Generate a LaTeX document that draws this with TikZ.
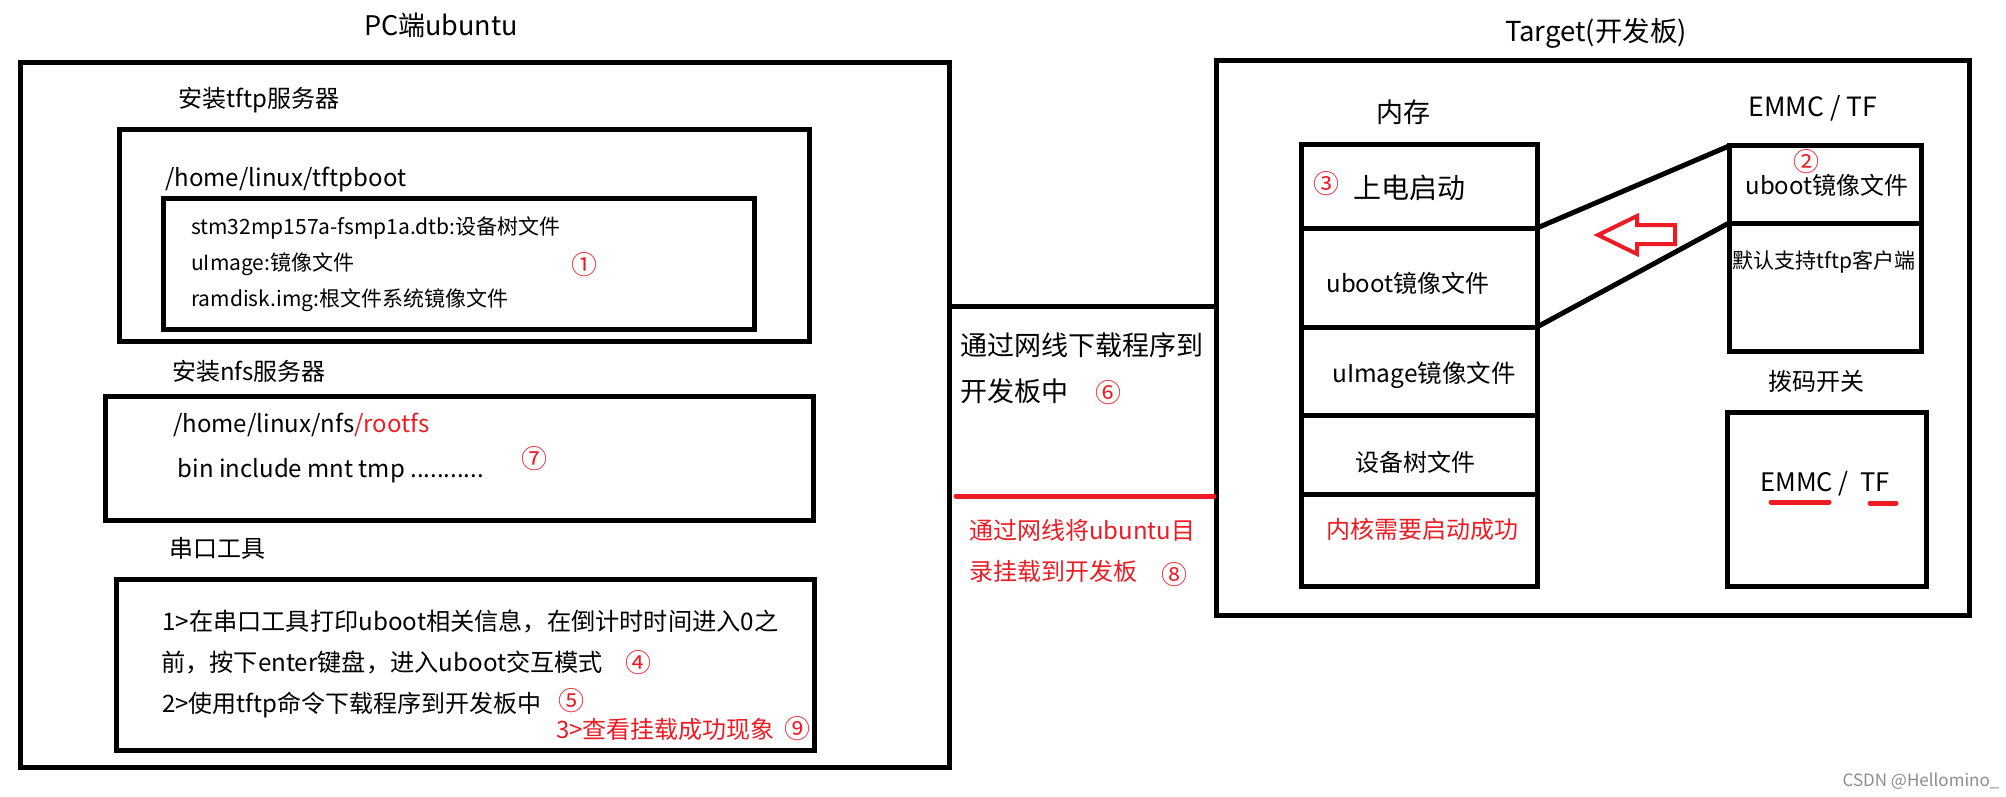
\documentclass[tikz,border=0pt]{standalone}
\usepackage{xcolor}
\usepackage{fontspec}
\setmainfont{Noto Sans CJK SC}
\definecolor{paintred}{HTML}{ED1C24}
\tikzset{
  box/.style={draw=black, line width=5pt, outer sep=0pt, inner sep=0pt},
  wire/.style={draw=black, line width=5pt},
  redwire/.style={draw=paintred, line width=5pt, line cap=round},
  lbl/.style={inner sep=0pt, font=\fontsize{24}{24}\selectfont},
  lbllarge/.style={lbl, font=\fontsize{27}{27}\selectfont},
  lblsmall/.style={lbl, font=\fontsize{21}{21}\selectfont},
  lblred/.style={lbl, text=paintred},
  circnum/.style={inner sep=0pt, text=paintred, font=\fontsize{26}{26}\selectfont},
}
\begin{document}
\begin{tikzpicture}[x=1pt, y=-1pt]
  \useasboundingbox (0,0) rectangle (2006,797);

  % PC side
  \node[box, minimum width=929pt, minimum height=704pt] (pcbox) at (484.5,415) {};
  \node[box, minimum width=690pt, minimum height=211pt] (tftpbox) at (464,235.5) {};
  \node[box, minimum width=591pt, minimum height=131pt] (tftpdir) at (458.5,263.5) {};
  \node[box, minimum width=708pt, minimum height=124pt] (nfsbox) at (459,458) {};
  \node[box, minimum width=698pt, minimum height=171pt] (uartbox) at (465,664.5) {};

  \node[lbllarge] (pctitle) at (441,25) {PC端ubuntu};
  \node[lbl] (tftptitle) at (259,100) {安装tftp服务器};
  \node[lbl, anchor=west] (tftppath) at (165,180) {/home/linux/tftpboot};
  \node[lblsmall, anchor=west] (dtbfile) at (191,228) {stm32mp157a-fsmp1a.dtb:设备树文件};
  \node[lblsmall, anchor=west] (uimagefile) at (191,264) {uImage:镜像文件};
  \node[lblsmall, anchor=west] (ramdiskfile) at (191,300) {ramdisk.img:根文件系统镜像文件};
  \node[circnum] (numone) at (584,265) {①};

  \node[lbl] (nfstitle) at (249,371) {安装nfs服务器};
  \node[lbl, anchor=west] (nfspath) at (173,425) {/home/linux/nfs{\color{paintred}/rootfs}};
  \node[lbl, anchor=west] (nfslist) at (177.5,471) {bin include mnt tmp ...........};
  \node[circnum] (numseven) at (534,459) {⑦};

  \node[lbl] (uarttitle) at (217,548) {串口工具};
  \node[lbl, anchor=west, font=\fontsize{24.2}{24.2}\selectfont] (uartone) at (162,622) {1>在串口工具打印uboot相关信息，在倒计时时间进入0之};
  \node[lbl, anchor=west, font=\fontsize{24.2}{24.2}\selectfont] (uarttwo) at (161,663) {前，按下enter键盘，进入uboot交互模式};
  \node[circnum] (numfour) at (638,663) {④};
  \node[lbl, anchor=west] (uartthree) at (162,705) {2>使用tftp命令下载程序到开发板中};
  \node[circnum] (numfive) at (571,701) {⑤};
  \node[lblred, anchor=west] (uartfour) at (556,729) {3>查看挂载成功现象};
  \node[circnum] (numnine) at (797,729) {⑨};

  % Target side
  \node[box, minimum width=753pt, minimum height=554pt] (targetbox) at (1592.5,338) {};
  \node[box, minimum width=236pt, minimum height=83pt] (mempower) at (1419,186.5) {};
  \node[box, minimum width=236pt, minimum height=99pt] (memuboot) at (1419,277.5) {};
  \node[box, minimum width=236pt, minimum height=88pt] (memuimage) at (1419,371) {};
  \node[box, minimum width=236pt, minimum height=79pt] (memdtb) at (1419,454.5) {};
  \node[box, minimum width=236pt, minimum height=92pt] (memkernel) at (1419,540) {};
  \node[box, minimum width=192pt, minimum height=77pt] (emmcuboot) at (1825,184.5) {};
  \node[box, minimum width=192pt, minimum height=128pt] (emmcclient) at (1825,287) {};
  \node[box, minimum width=199pt, minimum height=174pt] (switchbox) at (1827,499) {};

  \node[lbllarge, font=\fontsize{27.5}{27.5}\selectfont] (targettitle) at (1596,33) {Target(开发板)};
  \node[lbllarge] (memtitle) at (1403,112) {内存};
  \node[lbllarge, font=\fontsize{26.5}{26.5}\selectfont] (emmctitle) at (1813,108) {EMMC / TF};
  \node[circnum] (numthree) at (1326,184) {③};
  \node[lbllarge, font=\fontsize{28}{28}\selectfont] (powerlbl) at (1409,188) {上电启动};
  \node[lbl] (ubootlbl) at (1408,283) {uboot镜像文件};
  \node[lbl, font=\fontsize{24.5}{24.5}\selectfont] (uimagelbl) at (1424,375) {uImage镜像文件};
  \node[lbl] (dtblbl) at (1415,462) {设备树文件};
  \node[lblred] (kernellbl) at (1422,529) {内核需要启动成功};
  \node[circnum] (numtwo) at (1806,162) {②};
  \node[lbl] (emmcuboolbl) at (1827,185) {uboot镜像文件};
  \node[lblsmall] (clientlbl) at (1824,262) {默认支持tftp客户端};
  \node[lbl] (switchtitle) at (1816,381) {拨码开关};
  \node[lbl, font=\fontsize{25.5}{25.5}\selectfont] (switchlbl) at (1825,484) {EMMC / \ TF};

  % Underlines in the switch box
  \coordinate (emmcundera) at (1771,502);
  \coordinate (emmcunderb) at (1829,502);
  \coordinate (tfundera) at (1870,503);
  \coordinate (tfunderb) at (1896,503);
  \draw[redwire] (emmcundera) -- (emmcunderb);
  \draw[redwire] (tfundera) -- (tfunderb);

  % Links between the two boards
  \coordinate (nettopa) at (949,306.5);
  \coordinate (nettopb) at (1216,306.5);
  \coordinate (netreda) at (956,496);
  \coordinate (netredb) at (1214,496);
  \draw[wire] (nettopa) -- (nettopb);
  \draw[redwire] (netreda) -- (netredb);
  \draw[wire] (mempower.south east) -- (emmcuboot.north west);
  \draw[wire] (memuboot.south east) -- (emmcuboot.south west);

  \node[lbllarge, anchor=west] (netone) at (960,345) {通过网线下载程序到};
  \node[lbllarge, anchor=west] (nettwo) at (960,391) {开发板中};
  \node[circnum] (numsix) at (1108,393) {⑥};
  \node[lblred, anchor=west] (nfsnetone) at (969,530) {通过网线将ubuntu目};
  \node[lblred, anchor=west] (nfsnettwo) at (969,571) {录挂载到开发板};
  \node[circnum] (numeight) at (1174,575) {⑧};

  % Copy direction arrow
  \draw[draw=paintred, line width=4pt, fill=white, line join=miter]
    (1598,235) -- (1637,216) -- (1637,225) -- (1675,225) -- (1675,244) -- (1637,244) -- (1637,254) -- cycle;

  \node[inner sep=0pt, text=black!45, font=\fontsize{17}{17}\selectfont] (markcsdn) at (1921,781) {CSDN @Hellomino\_};
\end{tikzpicture}
\end{document}
